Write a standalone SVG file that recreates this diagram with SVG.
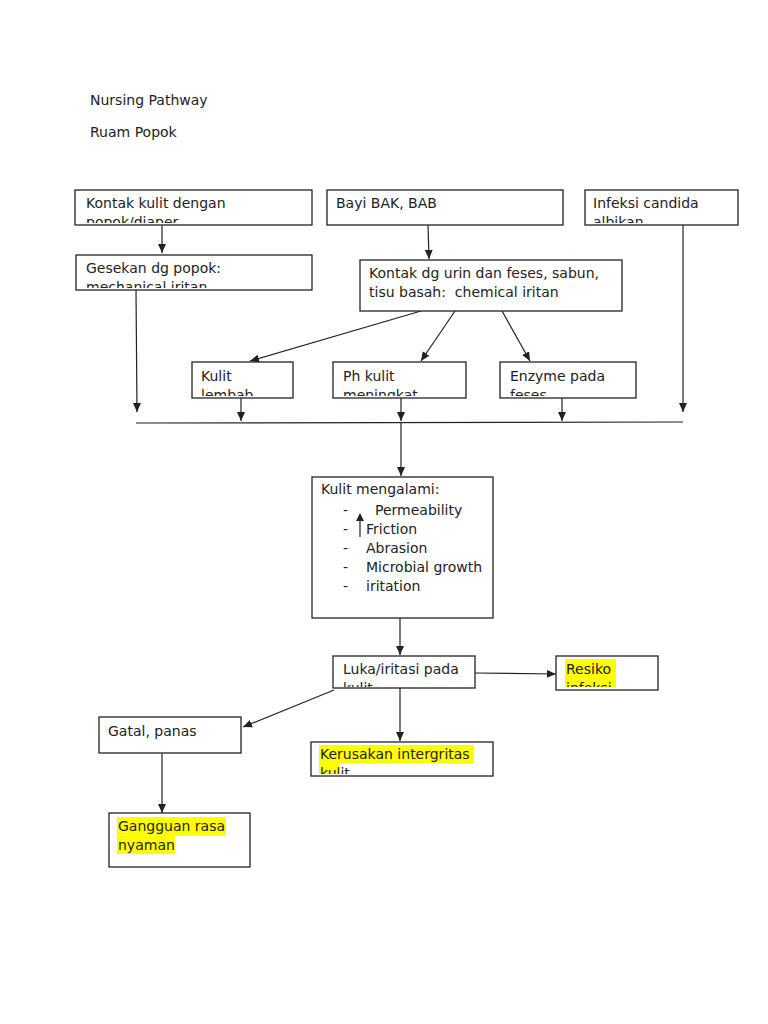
<svg xmlns="http://www.w3.org/2000/svg" width="768" height="1024" viewBox="0 0 768 1024">
<style>
text{font-family:"DejaVu Sans",sans-serif;font-size:14px;fill:#222}
.b{fill:#fff;stroke:#222;stroke-width:1.3}
.c{stroke:#222;stroke-width:1.2;fill:none}
.a{marker-end:url(#ah)}
.hl{fill:#ffff00}
</style>
<defs>
<marker id="ah" markerWidth="10" markerHeight="10" refX="9" refY="5" orient="auto" markerUnits="userSpaceOnUse"><path d="M0,1 L9,5 L0,9 Z" fill="#222"/></marker>
<clipPath id="k1"><rect x="75" y="190" width="237" height="33"/></clipPath>
<clipPath id="k2"><rect x="76" y="255" width="236" height="33"/></clipPath>
<clipPath id="k3"><rect x="585" y="190" width="153" height="33"/></clipPath>
<clipPath id="k4"><rect x="192" y="362" width="101" height="34"/></clipPath>
<clipPath id="k5"><rect x="333" y="362" width="133" height="34"/></clipPath>
<clipPath id="k6"><rect x="500" y="362" width="136" height="34"/></clipPath>
<clipPath id="k7"><rect x="333" y="656" width="142" height="31"/></clipPath>
<clipPath id="k8"><rect x="556" y="656" width="102" height="31"/></clipPath>
<clipPath id="k9"><rect x="311" y="742" width="182" height="32"/></clipPath>
</defs>
<text x="90" y="105">Nursing Pathway</text>
<text x="90" y="137">Ruam Popok</text>
<g id="connectors">
<line class="c a" x1="162" y1="225" x2="162" y2="253"/>
<line class="c a" x1="428" y1="225" x2="429" y2="259"/>
<line class="c a" x1="136" y1="290" x2="137" y2="412"/>
<line class="c a" x1="683" y1="225" x2="683" y2="412"/>
<line class="c a" x1="421" y1="311" x2="250" y2="361"/>
<line class="c a" x1="455" y1="311" x2="421" y2="361"/>
<line class="c a" x1="502" y1="311" x2="530" y2="361"/>
<line class="c a" x1="241" y1="398" x2="241" y2="421"/>
<line class="c a" x1="401" y1="398" x2="401" y2="421"/>
<line class="c a" x1="562" y1="398" x2="562" y2="421"/>
<line class="c" x1="136" y1="423" x2="683" y2="422"/>
<line class="c a" x1="401" y1="423" x2="401" y2="476"/>
<line class="c a" x1="400" y1="618" x2="400" y2="655"/>
<line class="c a" x1="475" y1="673" x2="556" y2="674"/>
<line class="c a" x1="334" y1="690" x2="243" y2="727"/>
<line class="c a" x1="400" y1="688" x2="400" y2="741"/>
<line class="c a" x1="162" y1="753" x2="162" y2="813"/>
</g>
<g id="n1"><rect class="b" x="75" y="190" width="237" height="35"/><g clip-path="url(#k1)"><text x="86" y="208">Kontak kulit dengan</text><text x="86" y="227">popok/diaper</text></g></g>
<g id="n2"><rect class="b" x="327" y="190" width="236" height="35"/><text x="336" y="208">Bayi BAK, BAB</text></g>
<g id="n3"><rect class="b" x="585" y="190" width="153" height="35"/><g clip-path="url(#k3)"><text x="593" y="208">Infeksi candida</text><text x="593" y="227">albikan</text></g></g>
<g id="n4"><rect class="b" x="76" y="255" width="236" height="35"/><g clip-path="url(#k2)"><text x="86" y="273">Gesekan dg popok:</text><text x="86" y="292">mechanical iritan</text></g></g>
<g id="n5"><rect class="b" x="360" y="260" width="262" height="51"/><text x="369" y="278">Kontak dg urin dan feses, sabun,</text><text x="369" y="297" xml:space="preserve" style="white-space:pre">tisu basah:  chemical iritan</text></g>
<g id="n6"><rect class="b" x="192" y="362" width="101" height="36"/><g clip-path="url(#k4)"><text x="201" y="381">Kulit</text><text x="201" y="400">lembab</text></g></g>
<g id="n7"><rect class="b" x="333" y="362" width="133" height="36"/><g clip-path="url(#k5)"><text x="343" y="381">Ph kulit</text><text x="343" y="400">meningkat</text></g></g>
<g id="n8"><rect class="b" x="500" y="362" width="136" height="36"/><g clip-path="url(#k6)"><text x="510" y="381">Enzyme pada</text><text x="510" y="400">feses</text></g></g>
<g id="n9"><rect class="b" x="312" y="477" width="181" height="141"/>
<text x="321" y="494">Kulit mengalami:</text>
<text x="343" y="515">-</text><text x="375" y="515">Permeability</text>
<text x="343" y="534">-</text><text x="366" y="534">Friction</text>
<text x="343" y="553">-</text><text x="366" y="553">Abrasion</text>
<text x="343" y="572">-</text><text x="366" y="572">Microbial growth</text>
<text x="343" y="591">-</text><text x="366" y="591">iritation</text>
<line class="c" x1="360" y1="537" x2="360" y2="518"/><path d="M356,521 L360,513 L364,521 Z" fill="#222"/>
</g>
<g id="n10"><rect class="b" x="333" y="656" width="142" height="32"/><g clip-path="url(#k7)"><text x="343" y="674">Luka/iritasi pada</text><text x="343" y="693">kulit</text></g></g>
<g id="n11"><rect class="b" x="556" y="656" width="102" height="34"/><g clip-path="url(#k8)"><rect class="hl" x="565" y="659" width="51" height="30"/><text x="566" y="674">Resiko</text><text x="566" y="693">infeksi</text></g></g>
<g id="n12"><rect class="b" x="99" y="717" width="142" height="36"/><text x="108" y="736">Gatal, panas</text></g>
<g id="n13"><rect class="b" x="311" y="742" width="182" height="34"/><g clip-path="url(#k9)"><rect class="hl" x="319" y="745" width="155" height="18"/><rect class="hl" x="319" y="763" width="20" height="18"/><text x="320" y="759">Kerusakan intergritas</text><text x="320" y="778">kulit</text></g></g>
<g id="n14"><rect class="b" x="109" y="813" width="141" height="54"/><rect class="hl" x="117" y="817" width="109" height="18"/><rect class="hl" x="117" y="836" width="58" height="18"/><text x="118" y="831">Gangguan rasa</text><text x="118" y="850">nyaman</text></g>
</svg>
